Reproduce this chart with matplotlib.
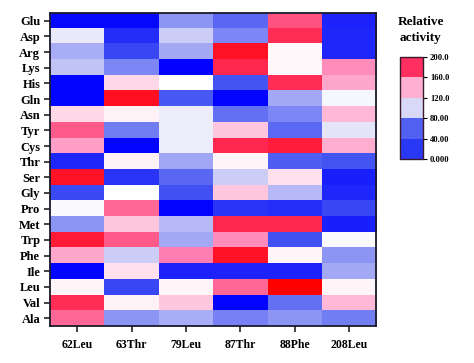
import numpy as np
import matplotlib
matplotlib.use("Agg")
import matplotlib.pyplot as plt
from matplotlib.colors import LinearSegmentedColormap, ListedColormap, BoundaryNorm, Normalize
from matplotlib.colorbar import ColorbarBase

rows = ["Glu", "Asp", "Arg", "Lys", "His", "Gln", "Asn", "Tyr", "Cys", "Thr",
        "Ser", "Gly", "Pro", "Met", "Trp", "Phe", "Ile", "Leu", "Val", "Ala"]
cols = ["62Leu", "63Thr", "79Leu", "87Thr", "88Phe", "208Leu"]

v_62Leu  = [5, 95, 78, 85, 3, 3, 115, 162, 138, 22, 190, 42, 99, 70, 186, 135, 3, 104, 178, 158]
v_63Thr  = [5, 25, 40, 65, 115, 192, 105, 62, 3, 105, 30, 100, 158, 122, 162, 88, 112, 40, 105, 70]
v_79Leu  = [70, 88, 76, 2, 100, 50, 96, 96, 96, 75, 55, 46, 3, 82, 76, 150, 20, 104, 122, 78]
v_87Thr  = [55, 65, 190, 180, 48, 3, 58, 122, 180, 104, 88, 122, 30, 180, 145, 190, 20, 158, 3, 64]
v_88Phe  = [165, 178, 103, 103, 178, 76, 65, 56, 185, 52, 112, 82, 26, 180, 46, 104, 20, 200, 58, 70]
v_208Leu = [20, 22, 22, 145, 135, 98, 128, 94, 132, 48, 18, 22, 40, 18, 99, 70, 76, 104, 128, 62]

cb_bounds = [0, 40, 80, 120, 160, 200]
cb_labels = ["0.000", "40.00", "80.00", "120.0", "160.0", "200.0"]
cb_colors = ["#2838f5", "#5060f0", "#d8d8f8", "#ffb0d0", "#ff3060"]

data = np.array([v_62Leu, v_63Thr, v_79Leu, v_87Thr, v_88Phe, v_208Leu], dtype=float).T

cmap = LinearSegmentedColormap.from_list("bwr_origin", [
    (0.0, "#0000ff"), (0.25, "#4858f2"), (0.45, "#d4d4f8"), (0.5, "#ffffff"),
    (0.6, "#ffcce2"), (0.75, "#ff80b4"), (0.9, "#ff2850"), (1.0, "#ff0000")])

plt.rcParams['font.family'] = ['Liberation Serif', 'DejaVu Serif']
plt.rcParams['font.weight'] = 'bold'

fig = plt.figure(figsize=(4.74, 3.63), dpi=100)
ax = fig.add_axes([50/474, 1-326/363, 326/474, 313/363])
ax.imshow(data, cmap=cmap, norm=Normalize(0, 200), aspect='auto', interpolation='nearest')
ax.set_xticks(range(len(cols)))
ax.set_xticklabels(cols, fontsize=8.5, fontweight='bold')
ax.set_yticks(range(len(rows)))
ax.set_yticklabels(rows, fontsize=9, fontweight='bold')
ax.tick_params(axis='both', length=4, width=1.2, color='#222222', pad=3)
ax.tick_params(axis='x', pad=5)
for s in ax.spines.values():
    s.set_linewidth(1.3)
    s.set_color('#1a1a2a')

cax = fig.add_axes([400/474, 1-159/363, 23/474, 102/363])
cb = ColorbarBase(cax, cmap=ListedColormap(cb_colors), norm=BoundaryNorm(cb_bounds, len(cb_colors)),
                  boundaries=cb_bounds, ticks=cb_bounds, orientation='vertical')
cb.set_ticklabels(cb_labels)
cax.tick_params(labelsize=6.2, length=3, width=0.8, pad=2)
for lab in cax.get_yticklabels():
    lab.set_fontweight('bold')
cb.outline.set_linewidth(1.0)
cb.outline.set_edgecolor('#3a1a2a')

fig.text(421/474, 1-22/363, "Relative", ha='center', va='center', fontsize=9.5, fontweight='bold')
fig.text(421/474, 1-38/363, "activity", ha='center', va='center', fontsize=9.5, fontweight='bold')

fig.savefig("out.png", dpi=100)
